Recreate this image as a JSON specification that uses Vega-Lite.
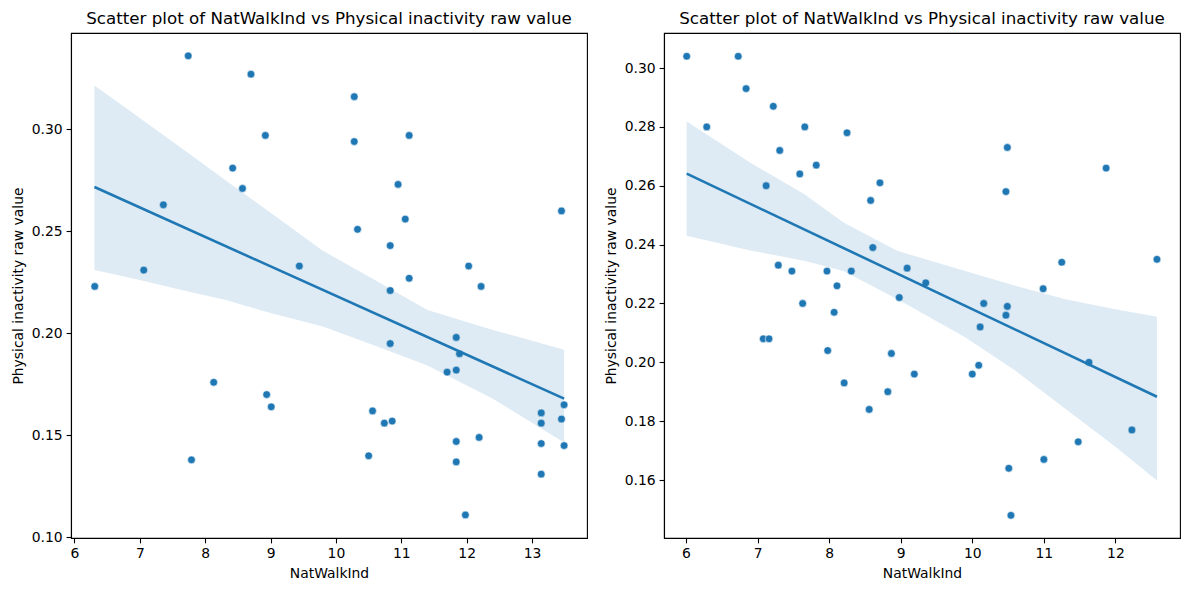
{
  "$schema": "https://vega.github.io/schema/vega-lite/v6.json",
  "padding": {"left": 10, "top": 10, "right": 10, "bottom": 5},
  "spacing": 15,
  "datasets": {
    "leftPts": [
      {"NatWalkInd": 7.74, "inactivity": 0.336}, {"NatWalkInd": 8.70, "inactivity": 0.327},
      {"NatWalkInd": 8.92, "inactivity": 0.297}, {"NatWalkInd": 8.42, "inactivity": 0.281},
      {"NatWalkInd": 8.57, "inactivity": 0.271}, {"NatWalkInd": 7.36, "inactivity": 0.263},
      {"NatWalkInd": 7.06, "inactivity": 0.231}, {"NatWalkInd": 6.31, "inactivity": 0.223},
      {"NatWalkInd": 9.44, "inactivity": 0.233}, {"NatWalkInd": 10.28, "inactivity": 0.316},
      {"NatWalkInd": 10.28, "inactivity": 0.294}, {"NatWalkInd": 11.12, "inactivity": 0.297},
      {"NatWalkInd": 10.95, "inactivity": 0.273}, {"NatWalkInd": 11.06, "inactivity": 0.256},
      {"NatWalkInd": 10.33, "inactivity": 0.251}, {"NatWalkInd": 10.83, "inactivity": 0.243},
      {"NatWalkInd": 13.45, "inactivity": 0.260}, {"NatWalkInd": 12.03, "inactivity": 0.233},
      {"NatWalkInd": 11.12, "inactivity": 0.227}, {"NatWalkInd": 12.22, "inactivity": 0.223},
      {"NatWalkInd": 10.83, "inactivity": 0.221}, {"NatWalkInd": 8.13, "inactivity": 0.176},
      {"NatWalkInd": 8.94, "inactivity": 0.170}, {"NatWalkInd": 9.01, "inactivity": 0.164},
      {"NatWalkInd": 7.79, "inactivity": 0.138}, {"NatWalkInd": 11.84, "inactivity": 0.198},
      {"NatWalkInd": 10.83, "inactivity": 0.195}, {"NatWalkInd": 11.89, "inactivity": 0.190},
      {"NatWalkInd": 11.70, "inactivity": 0.181}, {"NatWalkInd": 11.84, "inactivity": 0.182},
      {"NatWalkInd": 10.56, "inactivity": 0.162}, {"NatWalkInd": 10.74, "inactivity": 0.156},
      {"NatWalkInd": 10.86, "inactivity": 0.157}, {"NatWalkInd": 10.50, "inactivity": 0.140},
      {"NatWalkInd": 11.84, "inactivity": 0.147}, {"NatWalkInd": 12.19, "inactivity": 0.149},
      {"NatWalkInd": 11.84, "inactivity": 0.137}, {"NatWalkInd": 11.98, "inactivity": 0.111},
      {"NatWalkInd": 13.14, "inactivity": 0.161}, {"NatWalkInd": 13.14, "inactivity": 0.156},
      {"NatWalkInd": 13.14, "inactivity": 0.146}, {"NatWalkInd": 13.14, "inactivity": 0.131},
      {"NatWalkInd": 13.49, "inactivity": 0.165}, {"NatWalkInd": 13.45, "inactivity": 0.158},
      {"NatWalkInd": 13.49, "inactivity": 0.145}
    ],
    "leftFit": [
      {"NatWalkInd": 6.306, "fit": 0.2717}, {"NatWalkInd": 13.49, "fit": 0.168}
    ],
    "leftBand": [
      {"NatWalkInd": 6.306, "lo": 0.231, "hi": 0.3215},
      {"NatWalkInd": 7.0, "lo": 0.2262, "hi": 0.3055},
      {"NatWalkInd": 7.64, "lo": 0.2212, "hi": 0.2907},
      {"NatWalkInd": 8.3, "lo": 0.2165, "hi": 0.2753},
      {"NatWalkInd": 9.0, "lo": 0.2100, "hi": 0.2591},
      {"NatWalkInd": 9.8, "lo": 0.2033, "hi": 0.2405},
      {"NatWalkInd": 10.6, "lo": 0.1939, "hi": 0.2260},
      {"NatWalkInd": 11.4, "lo": 0.1842, "hi": 0.2115},
      {"NatWalkInd": 12.4, "lo": 0.1680, "hi": 0.2017},
      {"NatWalkInd": 13.49, "lo": 0.1465, "hi": 0.1920}
    ],
    "rightPts": [
      {"NatWalkInd": 6.01, "inactivity": 0.304}, {"NatWalkInd": 6.73, "inactivity": 0.304},
      {"NatWalkInd": 6.84, "inactivity": 0.293}, {"NatWalkInd": 7.22, "inactivity": 0.287},
      {"NatWalkInd": 6.29, "inactivity": 0.280}, {"NatWalkInd": 7.66, "inactivity": 0.280},
      {"NatWalkInd": 8.25, "inactivity": 0.278}, {"NatWalkInd": 7.31, "inactivity": 0.272},
      {"NatWalkInd": 7.82, "inactivity": 0.267}, {"NatWalkInd": 7.59, "inactivity": 0.264},
      {"NatWalkInd": 8.71, "inactivity": 0.261}, {"NatWalkInd": 7.12, "inactivity": 0.260},
      {"NatWalkInd": 8.58, "inactivity": 0.255}, {"NatWalkInd": 8.61, "inactivity": 0.239},
      {"NatWalkInd": 9.09, "inactivity": 0.232}, {"NatWalkInd": 9.35, "inactivity": 0.227},
      {"NatWalkInd": 7.29, "inactivity": 0.233}, {"NatWalkInd": 7.48, "inactivity": 0.231},
      {"NatWalkInd": 7.97, "inactivity": 0.231}, {"NatWalkInd": 8.31, "inactivity": 0.231},
      {"NatWalkInd": 8.11, "inactivity": 0.226}, {"NatWalkInd": 8.98, "inactivity": 0.222},
      {"NatWalkInd": 7.63, "inactivity": 0.220}, {"NatWalkInd": 8.07, "inactivity": 0.217},
      {"NatWalkInd": 7.08, "inactivity": 0.208}, {"NatWalkInd": 7.16, "inactivity": 0.208},
      {"NatWalkInd": 7.98, "inactivity": 0.204}, {"NatWalkInd": 8.87, "inactivity": 0.203},
      {"NatWalkInd": 9.19, "inactivity": 0.196}, {"NatWalkInd": 8.21, "inactivity": 0.193},
      {"NatWalkInd": 8.82, "inactivity": 0.190}, {"NatWalkInd": 8.56, "inactivity": 0.184},
      {"NatWalkInd": 10.49, "inactivity": 0.273}, {"NatWalkInd": 11.87, "inactivity": 0.266},
      {"NatWalkInd": 10.47, "inactivity": 0.258}, {"NatWalkInd": 11.25, "inactivity": 0.234},
      {"NatWalkInd": 12.58, "inactivity": 0.235}, {"NatWalkInd": 10.99, "inactivity": 0.225},
      {"NatWalkInd": 10.16, "inactivity": 0.220}, {"NatWalkInd": 10.49, "inactivity": 0.219},
      {"NatWalkInd": 10.47, "inactivity": 0.216}, {"NatWalkInd": 10.11, "inactivity": 0.212},
      {"NatWalkInd": 11.63, "inactivity": 0.200}, {"NatWalkInd": 10.09, "inactivity": 0.199},
      {"NatWalkInd": 10.00, "inactivity": 0.196}, {"NatWalkInd": 12.23, "inactivity": 0.177},
      {"NatWalkInd": 11.48, "inactivity": 0.173}, {"NatWalkInd": 11.00, "inactivity": 0.167},
      {"NatWalkInd": 10.51, "inactivity": 0.164}, {"NatWalkInd": 10.54, "inactivity": 0.148}
    ],
    "rightFit": [
      {"NatWalkInd": 6.01, "fit": 0.2641}, {"NatWalkInd": 12.58, "fit": 0.1883}
    ],
    "rightBand": [
      {"NatWalkInd": 6.01, "lo": 0.243, "hi": 0.2818},
      {"NatWalkInd": 6.9, "lo": 0.238, "hi": 0.2678},
      {"NatWalkInd": 7.65, "lo": 0.2345, "hi": 0.2572},
      {"NatWalkInd": 8.2, "lo": 0.2310, "hi": 0.2475},
      {"NatWalkInd": 8.95, "lo": 0.2215, "hi": 0.2379},
      {"NatWalkInd": 9.9, "lo": 0.2085, "hi": 0.2310},
      {"NatWalkInd": 10.6, "lo": 0.1972, "hi": 0.2260},
      {"NatWalkInd": 11.3, "lo": 0.1842, "hi": 0.2214},
      {"NatWalkInd": 12.0, "lo": 0.1713, "hi": 0.2180},
      {"NatWalkInd": 12.58, "lo": 0.1598, "hi": 0.2155}
    ]
  },
  "hconcat": [
    {
      "width": 516,
      "height": 505,
      "title": "Scatter plot of NatWalkInd vs Physical inactivity raw value",
      "layer": [
        {
          "data": {"name": "leftPts"},
          "mark": {"type": "point", "shape": "circle", "filled": true, "size": 60, "color": "#1f77b4", "stroke": "white", "strokeWidth": 0.6, "opacity": 1},
          "encoding": {
            "x": {"field": "NatWalkInd", "type": "quantitative", "scale": {"domain": [5.947, 13.84], "nice": false, "zero": false}, "axis": {"title": "NatWalkInd", "values": [6, 7, 8, 9, 10, 11, 12, 13], "format": "d"}},
            "y": {"field": "inactivity", "type": "quantitative", "scale": {"domain": [0.0997, 0.3472], "nice": false, "zero": false}, "axis": {"title": "Physical inactivity raw value", "values": [0.10, 0.15, 0.20, 0.25, 0.30], "format": ".2f"}}
          }
        },
        {
          "data": {"name": "leftBand"},
          "mark": {"type": "area", "color": "#1f77b4", "opacity": 0.15},
          "encoding": {
            "x": {"field": "NatWalkInd", "type": "quantitative"},
            "y": {"field": "lo", "type": "quantitative"},
            "y2": {"field": "hi"}
          }
        },
        {
          "data": {"name": "leftFit"},
          "mark": {"type": "line", "color": "#1f77b4", "strokeWidth": 2.6},
          "encoding": {
            "x": {"field": "NatWalkInd", "type": "quantitative"},
            "y": {"field": "fit", "type": "quantitative"}
          }
        }
      ]
    },
    {
      "width": 516,
      "height": 505,
      "title": "Scatter plot of NatWalkInd vs Physical inactivity raw value",
      "layer": [
        {
          "data": {"name": "rightPts"},
          "mark": {"type": "point", "shape": "circle", "filled": true, "size": 60, "color": "#1f77b4", "stroke": "white", "strokeWidth": 0.6, "opacity": 1},
          "encoding": {
            "x": {"field": "NatWalkInd", "type": "quantitative", "scale": {"domain": [5.693, 12.902], "nice": false, "zero": false}, "axis": {"title": "NatWalkInd", "values": [6, 7, 8, 9, 10, 11, 12], "format": "d"}},
            "y": {"field": "inactivity", "type": "quantitative", "scale": {"domain": [0.1403, 0.3119], "nice": false, "zero": false}, "axis": {"title": "Physical inactivity raw value", "values": [0.16, 0.18, 0.20, 0.22, 0.24, 0.26, 0.28, 0.30], "format": ".2f"}}
          }
        },
        {
          "data": {"name": "rightBand"},
          "mark": {"type": "area", "color": "#1f77b4", "opacity": 0.15},
          "encoding": {
            "x": {"field": "NatWalkInd", "type": "quantitative"},
            "y": {"field": "lo", "type": "quantitative"},
            "y2": {"field": "hi"}
          }
        },
        {
          "data": {"name": "rightFit"},
          "mark": {"type": "line", "color": "#1f77b4", "strokeWidth": 2.6},
          "encoding": {
            "x": {"field": "NatWalkInd", "type": "quantitative"},
            "y": {"field": "fit", "type": "quantitative"}
          }
        }
      ]
    }
  ],
  "config": {
    "font": "DejaVu Sans",
    "view": {"stroke": "black", "strokeWidth": 1.1},
    "axis": {
      "grid": false,
      "domainColor": "black",
      "domainWidth": 1.1,
      "tickColor": "black",
      "tickWidth": 1.1,
      "tickSize": 4.9,
      "labelPadding": 4,
      "labelFontSize": 13.9,
      "labelColor": "black",
      "labelFont": "DejaVu Sans",
      "labelFlush": false,
      "labelOverlap": false,
      "titleFontSize": 13.9,
      "titleFontWeight": "normal",
      "titleColor": "black",
      "titleFont": "DejaVu Sans",
      "titlePadding": 6
    },
    "title": {"fontSize": 16.7, "fontWeight": "normal", "color": "black", "font": "DejaVu Sans", "offset": 5}
  }
}
